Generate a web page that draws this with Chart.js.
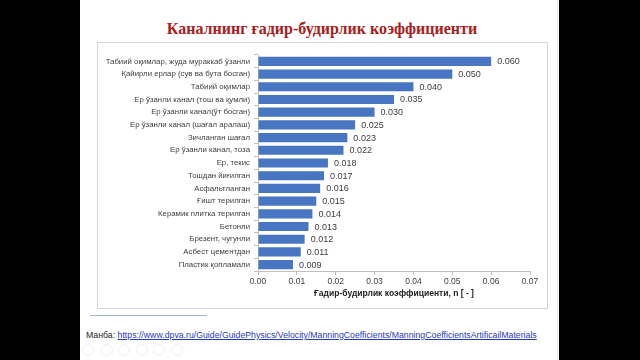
<!DOCTYPE html>
<html>
<head>
<meta charset="utf-8">
<script src="https://cdn.jsdelivr.net/npm/chart.js@4.4.0/dist/chart.umd.min.js"></script>
<style>
  html, body { margin: 0; padding: 0; background: #000; width: 640px; height: 360px; overflow: hidden; }
  #slide { position: absolute; left: 80px; top: 0; width: 479px; height: 360px; background: #fff; }
  #edge { position: absolute; left: 557px; top: 0; width: 1px; height: 360px; background: #e4e4e4; }
  #title { position: absolute; left: 80px; width: 484px; top: 20px; text-align: center;
           font-family: "Liberation Serif", "Times New Roman", serif; font-weight: bold; font-size: 16px;
           color: #a8201c; white-space: nowrap; }
  #box { position: absolute; left: 97px; top: 42px; width: 449px; height: 265px; border: 1px solid #d4d4d4; background: #fff; }
  #c { position: absolute; left: 0; top: 0; }
  #sep { position: absolute; left: 90px; top: 315px; width: 117px; height: 1px; background: #9fb1cc; }
  #src { position: absolute; left: 86px; top: 330px; font-family: "Liberation Sans", Arial, sans-serif;
         font-size: 9px; color: #222; white-space: nowrap; }
  #src a { color: #1f3bb8; text-decoration: underline; }
  #nav { position: absolute; left: 80px; top: 342px; }
</style>
</head>
<body>
<div id="slide"></div>
<div id="edge"></div>
<div id="title">Каналнинг ғадир-будирлик коэффициенти</div>
<div id="box"><canvas id="c" width="449" height="265"></canvas></div>
<div id="sep"></div>
<div id="src">Манба: <a>https://www.dpva.ru/Guide/GuidePhysics/Velocity/ManningCoefficients/ManningCoefficientsArtificailMaterials</a></div>
<svg id="nav" width="110" height="16">
  <g fill="none" stroke="#f0f0f0" stroke-width="1">
    <circle cx="8" cy="8" r="5.5"/><circle cx="27" cy="8" r="5.5"/><circle cx="44" cy="8" r="5.5"/>
    <circle cx="62" cy="8" r="5.5"/><circle cx="79" cy="8" r="5.5"/><circle cx="97" cy="8" r="5.5"/>
  </g>
</svg>
<script>
const categories = [
  "Табиий оқимлар, жуда мураккаб ўзанли",
  "Қайирли ерлар (сув ва бута босган)",
  "Табиий оқимлар",
  "Ер ўзанли канал (тош ва қумли)",
  "Ер ўзанли канал(ўт босган)",
  "Ер ўзанли канал (шағал аралаш)",
  "Зичланган шағал",
  "Ер ўзанли канал, тоза",
  "Ер, текис",
  "Тошдан йиғилган",
  "Асфальтланган",
  "Ғишт терилган",
  "Керамик плитка терилган",
  "Бетонли",
  "Брезент, чугунли",
  "Асбест цементдан",
  "Пластик қопламали"
];
const values = [0.060, 0.050, 0.040, 0.035, 0.030, 0.025, 0.023, 0.022, 0.018, 0.017, 0.016, 0.015, 0.014, 0.013, 0.012, 0.011, 0.009];
const xTicks = [0.00, 0.01, 0.02, 0.03, 0.04, 0.05, 0.06, 0.07];
const xTitle = "Ғадир-будирлик коэффициенти, n [ - ]";

// fit source line width
(function(){
  const s = document.getElementById('src');
  const target = 451;
  let fs = 9;
  s.style.fontSize = fs + 'px';
  const w = s.getBoundingClientRect().width;
  fs = fs * target / w;
  s.style.fontSize = fs.toFixed(2) + 'px';
})();

const valueLabels = {
  id: 'valueLabels',
  afterDatasetsDraw(chart) {
    const ctx = chart.ctx;
    const meta = chart.getDatasetMeta(0);
    ctx.save();
    ctx.font = '9px "Liberation Sans", Arial, sans-serif';
    ctx.fillStyle = '#404040';
    ctx.textAlign = 'left';
    ctx.textBaseline = 'middle';
    meta.data.forEach((bar, i) => {
      ctx.fillText(values[i].toFixed(3), bar.x + 6, bar.y + 0.5);
    });
    ctx.restore();
  }
};

const axisColor = '#c0c0c0';
new Chart(document.getElementById('c'), {
  type: 'bar',
  data: {
    labels: categories,
    datasets: [{
      data: values,
      backgroundColor: '#4876c2',
      borderWidth: 0,
      barPercentage: 0.72,
      categoryPercentage: 1.0
    }]
  },
  options: {
    indexAxis: 'y',
    responsive: false,
    animation: false,
    devicePixelRatio: 1,
    layout: { padding: { top: 12, right: 17, bottom: 0, left: 0 } },
    plugins: { legend: { display: false }, tooltip: { enabled: false }, title: { display: false } },
    scales: {
      y: {
        type: 'category',
        afterFit(scale) { scale.width = 160; },
        grid: { display: true, drawOnChartArea: false, drawTicks: true, tickLength: 4, offset: true, color: axisColor },
        border: { display: true, color: axisColor },
        ticks: {
          font: { family: '"Liberation Sans", Arial, sans-serif', size: 7.8 },
          color: '#404040',
          padding: 4,
          autoSkip: false
        }
      },
      x: {
        type: 'linear',
        min: xTicks[0],
        max: xTicks[xTicks.length - 1],
        afterFit(scale) { scale.height = 37; },
        afterBuildTicks(scale) { scale.ticks = xTicks.map(v => ({ value: v })); },
        grid: { display: true, drawOnChartArea: false, drawTicks: true, tickLength: 4, color: axisColor },
        border: { display: true, color: axisColor },
        ticks: {
          font: { family: '"Liberation Sans", Arial, sans-serif', size: 8.5 },
          color: '#404040',
          padding: 2,
          maxRotation: 0,
          callback: (v) => Number(v).toFixed(2)
        },
        title: {
          display: true,
          text: xTitle,
          font: { family: '"Liberation Sans", Arial, sans-serif', size: 8.5, weight: 'bold' },
          color: '#222',
          padding: { top: 0, bottom: 9 }
        }
      }
    }
  },
  plugins: [valueLabels]
});
</script>
</body>
</html>
